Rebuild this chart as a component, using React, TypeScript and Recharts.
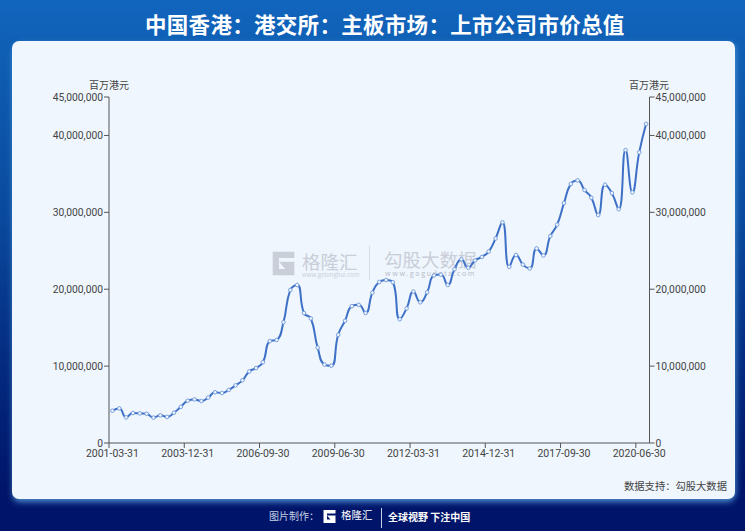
import { LineChart, Line, XAxis, YAxis } from "recharts";

// Quarter ends from 2001-03-31 to 2020-09-30
const years = [2001, 2002, 2003, 2004, 2005, 2006, 2007, 2008, 2009, 2010, 2011, 2012, 2013, 2014, 2015, 2016, 2017, 2018, 2019, 2020];
const quarterEnds = ["03-31", "06-30", "09-30", "12-31"];
const categories = years
  .flatMap((y) => quarterEnds.map((q) => `${y}-${q}`))
  .slice(0, 79);

// Market cap, million HKD
const marketCap = [
  4200000, 4500000, 3330000, 3900000, 3850000, 3800000, 3300000, 3600000, 3380000, 3940000,
  4700000, 5500000, 5670000, 5450000, 5900000, 6600000, 6500000, 6900000, 7500000, 8150000,
  9300000, 9750000, 10500000, 13250000, 13400000, 15700000, 19900000, 20550000, 16900000, 16200000,
  12400000, 10200000, 10050000, 14070000, 15900000, 17800000, 17970000, 16900000, 19550000, 20950000,
  21200000, 20900000, 16100000, 17500000, 19700000, 18300000, 19600000, 21800000, 21900000, 20550000,
  22600000, 23900000, 22800000, 23750000, 24200000, 24900000, 26600000, 28700000, 22900000, 24450000,
  23200000, 22700000, 25300000, 24400000, 26900000, 28400000, 31200000, 33700000, 34150000, 32900000,
  31900000, 29650000, 33600000, 32500000, 30400000, 38100000, 32600000, 37800000, 41500000,
];

const yTicks = [0, 10000000, 20000000, 30000000, 40000000, 45000000];

const FONT = '"Noto Sans CJK SC", "Noto Sans", sans-serif';
const TICK_FONT = 'Roboto, "Noto Sans", sans-serif';
const AXIS_COLOR = "#555";
const TEXT_COLOR = "#444";
const BAND = 540.5 / 79;
const SMOOTH = 0.5;

const data = categories.map((date, i) => ({ date, value: marketCap[i] }));

const clamp = (v: number, a: number, b: number) => Math.max(Math.min(v, Math.max(a, b)), Math.min(a, b));

// long-handled smoothing that never overshoots a point
function softCurve(context: any) {
  let pts: [number, number][] = [];
  return {
    areaStart() {},
    areaEnd() {},
    lineStart() {
      pts = [];
    },
    point(x: number, y: number) {
      pts.push([+x, +y]);
    },
    lineEnd() {
      if (!pts.length) return;
      context.moveTo(pts[0][0], pts[0][1]);
      let [c0x, c0y] = pts[0];
      for (let i = 1; i < pts.length; i++) {
        const [x, y] = pts[i];
        const [px, py] = pts[i - 1];
        const [nx, ny] = pts[i + 1] ?? pts[i];
        const lenPrev = Math.hypot(x - px, y - py) || 1;
        const lenNext = Math.hypot(nx - x, ny - y) || 1;
        const ratio = lenNext / (lenPrev + lenNext);
        let outX = clamp(x + (nx - px) * SMOOTH * ratio, x, nx);
        let outY = clamp(y + (ny - py) * SMOOTH * ratio, y, ny);
        const inX = clamp(x - ((outX - x) * lenPrev) / lenNext, px, x);
        const inY = clamp(y - ((outY - y) * lenPrev) / lenNext, py, y);
        outX = clamp(x + ((x - inX) * lenNext) / lenPrev, x, nx);
        outY = clamp(y + ((y - inY) * lenNext) / lenPrev, y, ny);
        context.bezierCurveTo(c0x, c0y, inX, inY, x, y);
        c0x = outX;
        c0y = outY;
      }
    },
  };
}

// ticks sit on the band edge, labels on the band centre
function BandTick({ x, y, payload }: any) {
  return (
    <g>
      <line x1={x - BAND / 2} x2={x - BAND / 2} y1={443} y2={448} stroke={AXIS_COLOR} />
      <text x={x} y={y + 6} textAnchor="middle" fontSize={10.5} fill={TEXT_COLOR} fontFamily={TICK_FONT}>
        {payload.value}
      </text>
    </g>
  );
}

const abs = (style: React.CSSProperties): React.CSSProperties => ({ position: "absolute", ...style });

function GLogo({ size, color }: { size: number; color: string }) {
  return (
    <svg width={size} height={size} viewBox="0 0 30 30" style={{ display: "block" }}>
      <path d="M3 2 H27 V9 H10 V21 H17 L10 13 H27 V28 H3 Z" fill={color} />
    </svg>
  );
}

export default function App() {
  const yTickStyle = { fontSize: 10.3, fill: TEXT_COLOR, fontFamily: TICK_FONT };
  return (
    <div
      style={{
        position: "absolute",
        left: 0,
        top: 0,
        width: 745,
        height: 531,
        overflow: "hidden",
        fontFamily: FONT,
        background: "linear-gradient(180deg, #1265bd 0%, #0e5db2 12%, #0a4a9e 40%, #03277c 72%, #00156a 92%, #00156a 100%)",
      }}
    >
      <div style={abs({ left: 145, top: 9, color: "#fff", fontSize: 21.5, fontWeight: 700, lineHeight: "30px", letterSpacing: 0.3, whiteSpace: "nowrap" })}>
        中国香港：港交所：主板市场：上市公司市价总值
      </div>

      {/* card */}
      <div
        style={abs({
          left: 11.5,
          top: 41,
          width: 723.5,
          height: 458,
          borderRadius: 7,
          background: "#eff6fe",
          boxShadow: "0 4px 6px -1px rgba(90,160,220,0.8), 3px 0 6px -1px rgba(70,140,210,0.5)",
        })}
      />

      {/* watermark */}
      <div style={abs({ left: 270, top: 250 })}>
        <GLogo size={27} color="#c9ced8" />
      </div>
      <div style={abs({ left: 302, top: 249, color: "#c9ced8", fontSize: 18.5, lineHeight: "24px", whiteSpace: "nowrap" })}>格隆汇</div>
      <div style={abs({ left: 302, top: 271, color: "#ccd1da", fontSize: 6, lineHeight: "8px", whiteSpace: "nowrap" })}>www.gelonghui.com</div>
      <div style={abs({ left: 369, top: 246, width: 1, height: 34, background: "#d6dbe3" })} />
      <div style={abs({ left: 384, top: 247, color: "#c9ced8", fontSize: 18.5, lineHeight: "24px", whiteSpace: "nowrap" })}>勾股大数据</div>
      <div style={abs({ left: 385, top: 269, color: "#b8bec9", fontSize: 7, lineHeight: "9px", letterSpacing: 1.6, whiteSpace: "nowrap" })}>www.gogudata.com</div>

      <div style={abs({ left: 0, top: 0 })}>
        <LineChart width={745} height={531} data={data} margin={{ top: 97, right: 0, bottom: 0, left: 0 }}>
          <XAxis
            dataKey="date"
            scale="band"
            interval={10}
            height={88}
            tickLine={false}
            tick={<BandTick />}
            axisLine={{ stroke: AXIS_COLOR }}
          />
          <YAxis
            yAxisId="left"
            width={109}
            domain={[0, 45000000]}
            ticks={yTicks}
            tickFormatter={(v: number) => v.toLocaleString("en-US")}
            tick={yTickStyle}
            tickSize={5}
            tickMargin={1}
            tickLine={{ stroke: AXIS_COLOR }}
            axisLine={{ stroke: AXIS_COLOR }}
          />
          <YAxis
            yAxisId="right"
            orientation="right"
            width={95.5}
            domain={[0, 45000000]}
            ticks={yTicks}
            tickFormatter={(v: number) => v.toLocaleString("en-US")}
            tick={yTickStyle}
            tickSize={5}
            tickMargin={1}
            tickLine={{ stroke: AXIS_COLOR }}
            axisLine={{ stroke: AXIS_COLOR }}
          />
          {/* invisible copy so the right axis gets its ticks */}
          <Line
            yAxisId="right"
            dataKey="value"
            stroke="none"
            dot={false}
            activeDot={false}
            isAnimationActive={false}
          />
          <Line
            yAxisId="left"
            dataKey="value"
            type={softCurve as any}
            stroke="#3d70c6"
            strokeWidth={2}
            dot={{ r: 1.8, fill: "#eff6fe", stroke: "#7aa0dc", strokeWidth: 1 }}
            isAnimationActive={false}
          />
        </LineChart>
      </div>

      <div style={abs({ left: 89, top: 78, color: TEXT_COLOR, fontSize: 10, lineHeight: "14px" })}>百万港元</div>
      <div style={abs({ left: 629, top: 78, color: TEXT_COLOR, fontSize: 10, lineHeight: "14px" })}>百万港元</div>
      <div style={abs({ left: 624, top: 479, color: TEXT_COLOR, fontSize: 10.3, lineHeight: "14px" })}>数据支持：勾股大数据</div>

      {/* footer */}
      <div style={abs({ left: 269, top: 509, color: "#c5d0e4", fontSize: 10, lineHeight: "14px" })}>图片制作：</div>
      <div style={abs({ left: 322, top: 509 })}>
        <GLogo size={15} color="#fff" />
      </div>
      <div style={abs({ left: 341, top: 508, color: "#fff", fontSize: 10.5, lineHeight: "14px" })}>格隆汇</div>
      <div style={abs({ left: 381, top: 508, width: 1, height: 20, background: "#c5d0e4" })} />
      <div style={abs({ left: 388, top: 510, color: "#fff", fontSize: 10, fontWeight: 700, lineHeight: "14px", whiteSpace: "nowrap" })}>全球视野 下注中国</div>
    </div>
  );
}
